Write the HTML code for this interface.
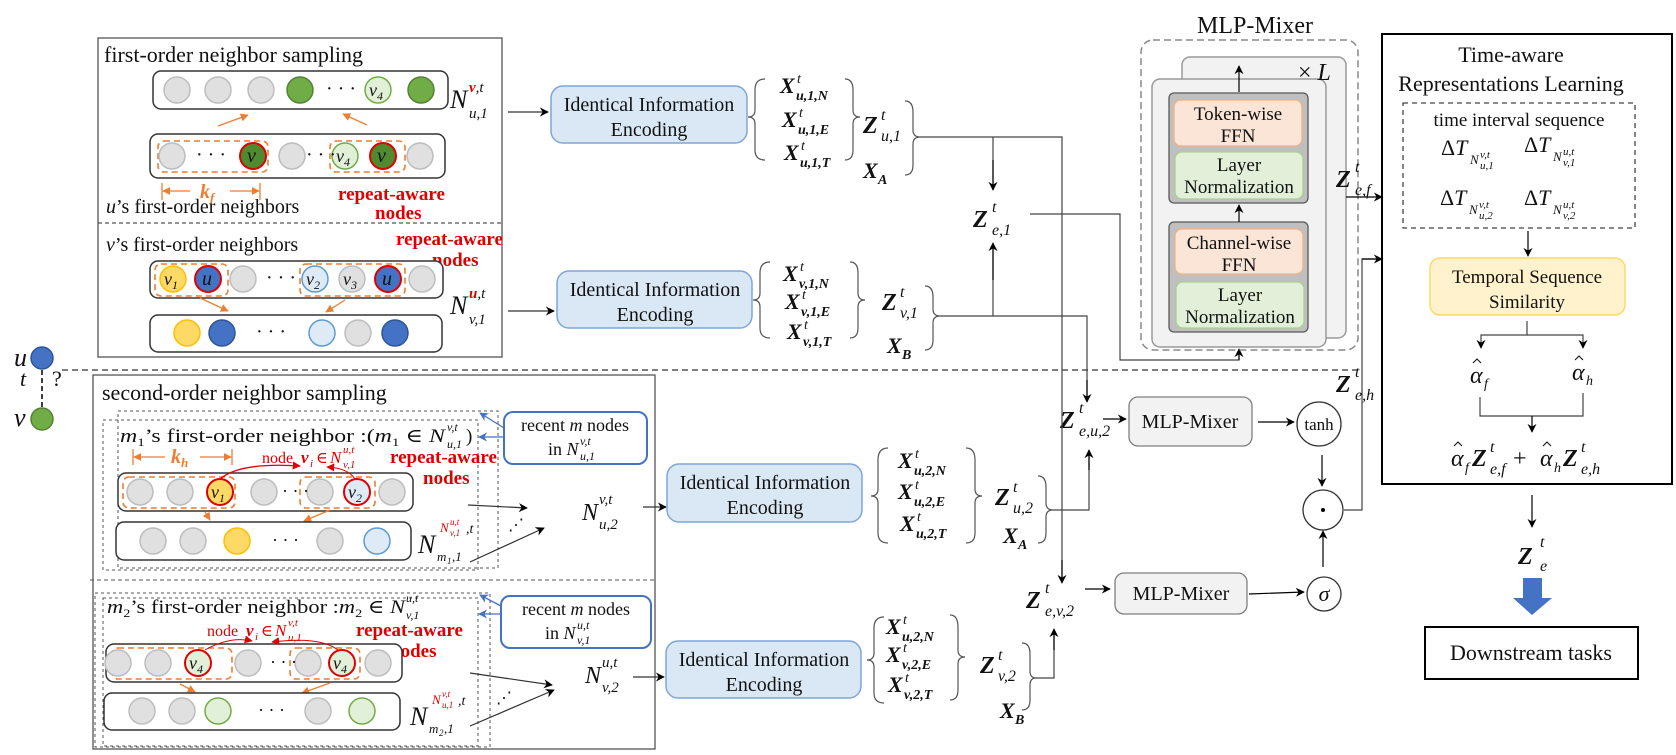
<!DOCTYPE html>
<html><head><meta charset="utf-8">
<style>
html,body{margin:0;padding:0;background:#fff;}
svg{display:block;}
text{font-family:"Liberation Serif","DejaVu Serif",serif;fill:#111;}
.t{font-size:22px;}
.m{font-style:italic;}
.b{font-weight:bold;}
.r{fill:#e00000;}
.o{fill:#ed7d31;}
.X{font-size:22px;font-style:italic;font-weight:bold;}
.Z{font-size:24px;font-style:italic;font-weight:bold;}
.s{font-size:14px;font-style:italic;}
.sb{font-size:14px;font-style:italic;font-weight:bold;}
.z{font-size:16px;font-style:italic;}
</style></head>
<body>
<svg width="1676" height="755" viewBox="0 0 1676 755" xmlns="http://www.w3.org/2000/svg">
<defs>
<marker id="a" viewBox="0 0 10 10" refX="9" refY="5" markerWidth="9" markerHeight="9" orient="auto-start-reverse" markerUnits="userSpaceOnUse"><path d="M0,0 L10,5 L0,10 L3,5 z" fill="#000"/></marker>
<marker id="ao" viewBox="0 0 10 10" refX="9" refY="5" markerWidth="8" markerHeight="8" orient="auto" markerUnits="userSpaceOnUse"><path d="M0,0 L10,5 L0,10 z" fill="#ed7d31"/></marker>
<marker id="ab" viewBox="0 0 10 10" refX="9" refY="5" markerWidth="9" markerHeight="9" orient="auto" markerUnits="userSpaceOnUse"><path d="M0,0 L10,5 L0,10 L3,5 z" fill="#4472c4"/></marker>
<marker id="ar" viewBox="0 0 10 10" refX="9" refY="5" markerWidth="8" markerHeight="8" orient="auto" markerUnits="userSpaceOnUse"><path d="M0,0 L10,5 L0,10 z" fill="#e00000"/></marker>
</defs>

<text x="14" y="366" class="m" font-size="26">u</text>
<circle cx="42" cy="358" r="11" fill="#4472c4" stroke="#2f5597" stroke-width="1.5"/>
<line x1="42" y1="370" x2="42" y2="407" stroke="#000" stroke-width="1.5" stroke-dasharray="5,3"/>
<text x="20" y="386" class="m" font-size="22">t</text>
<text x="52" y="386" font-size="22">?</text>
<text x="14" y="426" class="m" font-size="26">v</text>
<circle cx="42" cy="419" r="11" fill="#70ad47" stroke="#548235" stroke-width="1.5"/>

<line x1="62" y1="370" x2="1362" y2="370" stroke="#333" stroke-width="1.3" stroke-dasharray="6,4"/>

<!-- first-order box -->
<rect x="98" y="38" width="404" height="319" fill="none" stroke="#555" stroke-width="1.3"/>
<text x="104" y="62" class="t">first-order neighbor sampling</text>
<rect x="153" y="71" width="295" height="38" rx="8" fill="#fff" stroke="#333" stroke-width="1.5"/>
<g stroke-width="1.5">
<circle cx="177" cy="90" r="13" fill="#e0e0e0" stroke="#bdbdbd"/>
<circle cx="218" cy="90" r="13" fill="#e0e0e0" stroke="#bdbdbd"/>
<circle cx="261" cy="90" r="13" fill="#e0e0e0" stroke="#bdbdbd"/>
<circle cx="300" cy="90" r="13" fill="#70ad47" stroke="#548235"/>
<circle cx="378" cy="90" r="13" fill="#e2f0d9" stroke="#70ad47"/>
<circle cx="421" cy="90" r="13" fill="#70ad47" stroke="#548235"/>
</g>
<text x="326" y="95" font-size="20">· · ·</text>
<text x="369" y="96" class="m" font-size="18">v<tspan font-size="12" dy="4">4</tspan></text>

<line x1="218" y1="126" x2="248" y2="115" stroke="#ed7d31" stroke-width="1.3" marker-end="url(#ao)"/>
<line x1="367" y1="125" x2="343" y2="114" stroke="#ed7d31" stroke-width="1.3" marker-end="url(#ao)"/>

<rect x="150" y="134" width="295" height="44" rx="8" fill="#fff" stroke="#333" stroke-width="1.5"/>
<rect x="158" y="141" width="110" height="31" rx="6" fill="none" stroke="#ed7d31" stroke-width="1.6" stroke-dasharray="6,4"/>
<rect x="330" y="141" width="75" height="31" rx="6" fill="none" stroke="#ed7d31" stroke-width="1.6" stroke-dasharray="6,4"/>
<g stroke-width="1.5">
<circle cx="172" cy="156" r="13" fill="#e0e0e0" stroke="#bdbdbd"/>
<circle cx="253" cy="156" r="13" fill="#4f8a2e" stroke="#e00000" stroke-width="2"/>
<circle cx="292" cy="156" r="13" fill="#e0e0e0" stroke="#bdbdbd"/>
<circle cx="345" cy="156" r="13" fill="#e2f0d9" stroke="#70ad47"/>
<circle cx="383" cy="156" r="13" fill="#4f8a2e" stroke="#e00000" stroke-width="2"/>
<circle cx="420" cy="156" r="13" fill="#e0e0e0" stroke="#bdbdbd"/>
</g>
<text x="196" y="161" font-size="20">· · ·</text>
<text x="306" y="161" font-size="20">· · ·</text>
<text x="247" y="162" class="m" font-size="20">v</text>
<text x="377" y="162" class="m" font-size="20">v</text>
<text x="336" y="162" class="m" font-size="18">v<tspan font-size="12" dy="4">4</tspan></text>

<line x1="162" y1="183" x2="162" y2="200" stroke="#ed7d31" stroke-width="1.3"/>
<line x1="260" y1="183" x2="260" y2="200" stroke="#ed7d31" stroke-width="1.3"/>
<line x1="190" y1="191" x2="163" y2="191" stroke="#ed7d31" stroke-width="1.3" marker-end="url(#ao)"/>
<line x1="230" y1="191" x2="259" y2="191" stroke="#ed7d31" stroke-width="1.3" marker-end="url(#ao)"/>
<text x="200" y="198" class="m b o" font-size="20">k<tspan font-size="13" dy="4">f</tspan></text>
<text x="106" y="213" font-size="20"><tspan class="m">u</tspan>’s first-order neighbors</text>
<text x="338" y="200" class="b r" font-size="19">repeat-aware</text>
<text x="375" y="219" class="b r" font-size="19">nodes</text>

<line x1="98" y1="223" x2="502" y2="223" stroke="#555" stroke-width="1.2" stroke-dasharray="4,3"/>
<text x="106" y="251" font-size="20"><tspan class="m">v</tspan>’s first-order neighbors</text>
<text x="396" y="245" class="b r" font-size="19">repeat-aware</text>
<text x="432" y="266" class="b r" font-size="19">nodes</text>

<rect x="150" y="261" width="293" height="37" rx="8" fill="#fff" stroke="#333" stroke-width="1.5"/>
<rect x="155" y="264" width="73" height="32" rx="6" fill="none" stroke="#ed7d31" stroke-width="1.6" stroke-dasharray="6,4"/>
<rect x="300" y="264" width="105" height="32" rx="6" fill="none" stroke="#ed7d31" stroke-width="1.6" stroke-dasharray="6,4"/>
<g stroke-width="1.5">
<circle cx="173" cy="279" r="13" fill="#ffd966" stroke="#ffc000"/>
<circle cx="208" cy="279" r="13" fill="#4472c4" stroke="#e00000" stroke-width="2"/>
<circle cx="243" cy="279" r="13" fill="#e0e0e0" stroke="#bdbdbd"/>
<circle cx="315" cy="279" r="13" fill="#deebf7" stroke="#5b9bd5"/>
<circle cx="352" cy="279" r="13" fill="#e0e0e0" stroke="#bdbdbd"/>
<circle cx="388" cy="279" r="13" fill="#4472c4" stroke="#e00000" stroke-width="2"/>
<circle cx="422" cy="279" r="13" fill="#e0e0e0" stroke="#bdbdbd"/>
</g>
<text x="266" y="284" font-size="20">· · ·</text>
<text x="164" y="285" class="m" font-size="18">v<tspan font-size="12" dy="4">1</tspan></text>
<text x="202" y="285" class="m" font-size="20">u</text>
<text x="306" y="285" class="m" font-size="18">v<tspan font-size="12" dy="4">2</tspan></text>
<text x="343" y="285" class="m" font-size="18">v<tspan font-size="12" dy="4">3</tspan></text>
<text x="382" y="285" class="m" font-size="20">u</text>

<line x1="200" y1="298" x2="228" y2="311" stroke="#ed7d31" stroke-width="1.3" marker-end="url(#ao)"/>
<line x1="345" y1="300" x2="326" y2="312" stroke="#ed7d31" stroke-width="1.3" marker-end="url(#ao)"/>

<rect x="150" y="315" width="292" height="37" rx="8" fill="#fff" stroke="#333" stroke-width="1.5"/>
<g stroke-width="1.5">
<circle cx="187" cy="333" r="13" fill="#ffd966" stroke="#ffc000"/>
<circle cx="222" cy="333" r="13" fill="#4472c4" stroke="#2f5597"/>
<circle cx="322" cy="333" r="13" fill="#deebf7" stroke="#5b9bd5"/>
<circle cx="358" cy="333" r="13" fill="#e0e0e0" stroke="#bdbdbd"/>
<circle cx="395" cy="333" r="13" fill="#4472c4" stroke="#2f5597"/>
</g>
<text x="256" y="338" font-size="20">· · ·</text>

<text x="450" y="108" class="m" font-size="26">N</text>
<text x="469" y="118" class="m" font-size="15">u,1</text>
<text x="469" y="92" class="m b r" font-size="15">v<tspan fill="#111" font-weight="normal">,t</tspan></text>
<text x="450" y="314" class="m" font-size="26">N</text>
<text x="469" y="324" class="m" font-size="15">v,1</text>
<text x="469" y="298" class="m b r" font-size="15">u<tspan fill="#111" font-weight="normal">,t</tspan></text>

<!-- second-order box -->
<rect x="93" y="375" width="562" height="374" fill="none" stroke="#555" stroke-width="1.3"/>
<text x="102" y="400" class="t">second-order neighbor sampling</text>
<rect x="118" y="411" width="380" height="157" fill="none" stroke="#555" stroke-width="1" stroke-dasharray="3,3"/>
<rect x="103" y="420" width="375" height="150" fill="none" stroke="#555" stroke-width="1" stroke-dasharray="3,3"/>
<text x="120" y="442" font-size="19" textLength="325" lengthAdjust="spacingAndGlyphs"><tspan class="m">m</tspan><tspan font-size="12" dy="4">1</tspan><tspan dy="-4">’s first-order neighbor :(</tspan><tspan class="m">m</tspan><tspan font-size="12" dy="4">1</tspan><tspan dy="-4"> ∈ </tspan><tspan class="m">N</tspan></text>
<text x="447" y="431" class="m" font-size="12">v,t</text>
<text x="447" y="448" class="m" font-size="12">u,1</text>
<text x="466" y="442" font-size="19">)</text>

<line x1="133" y1="449" x2="133" y2="465" stroke="#ed7d31" stroke-width="1.3"/>
<line x1="232" y1="449" x2="232" y2="465" stroke="#ed7d31" stroke-width="1.3"/>
<line x1="165" y1="457" x2="134" y2="457" stroke="#ed7d31" stroke-width="1.3" marker-end="url(#ao)"/>
<line x1="200" y1="457" x2="231" y2="457" stroke="#ed7d31" stroke-width="1.3" marker-end="url(#ao)"/>
<text x="171" y="463" class="m b o" font-size="20">k<tspan font-size="13" dy="4">h</tspan></text>

<text x="262" y="463" class="r" font-size="16">node</text>
<text x="301" y="463" class="r m b" font-size="17">v</text>
<text x="310" y="467" class="r m" font-size="11">i</text>
<text x="316" y="463" class="r" font-size="16">∈</text>
<text x="330" y="463" class="r m" font-size="17">N</text>
<text x="343" y="453" class="r m" font-size="11">u,t</text>
<text x="343" y="468" class="r m" font-size="11">v,1</text>
<text x="390" y="463" class="b r" font-size="19">repeat-aware</text>
<text x="423" y="484" class="b r" font-size="19">nodes</text>

<rect x="118" y="473" width="295" height="38" rx="8" fill="#fff" stroke="#333" stroke-width="1.5"/>
<rect x="123" y="477" width="112" height="31" rx="6" fill="none" stroke="#ed7d31" stroke-width="1.6" stroke-dasharray="6,4"/>
<rect x="300" y="477" width="75" height="31" rx="6" fill="none" stroke="#ed7d31" stroke-width="1.6" stroke-dasharray="6,4"/>
<g stroke-width="1.5">
<circle cx="140" cy="492" r="13" fill="#e0e0e0" stroke="#bdbdbd"/>
<circle cx="180" cy="492" r="13" fill="#e0e0e0" stroke="#bdbdbd"/>
<circle cx="220" cy="492" r="13" fill="#ffd966" stroke="#e00000" stroke-width="2"/>
<circle cx="264" cy="492" r="13" fill="#e0e0e0" stroke="#bdbdbd"/>
<circle cx="320" cy="492" r="13" fill="#e0e0e0" stroke="#bdbdbd"/>
<circle cx="357" cy="492" r="13" fill="#deebf7" stroke="#e00000" stroke-width="2"/>
<circle cx="392" cy="492" r="13" fill="#e0e0e0" stroke="#bdbdbd"/>
</g>
<text x="282" y="497" font-size="18">· · ·</text>
<text x="211" y="498" class="m" font-size="18">v<tspan font-size="12" dy="4">1</tspan></text>
<text x="348" y="498" class="m" font-size="18">v<tspan font-size="12" dy="4">2</tspan></text>
<path d="M220,479 Q240,462 300,466" fill="none" stroke="#e00000" stroke-width="1.3" marker-end="url(#ar)"/>
<path d="M355,479 Q348,468 327,467" fill="none" stroke="#e00000" stroke-width="1" marker-end="url(#ar)"/>
<line x1="205" y1="512" x2="210" y2="520" stroke="#ed7d31" stroke-width="1.3" marker-end="url(#ao)"/>
<line x1="330" y1="510" x2="304" y2="521" stroke="#ed7d31" stroke-width="1.3" marker-end="url(#ao)"/>

<rect x="116" y="522" width="295" height="38" rx="8" fill="#fff" stroke="#333" stroke-width="1.5"/>
<g stroke-width="1.5">
<circle cx="153" cy="541" r="13" fill="#e0e0e0" stroke="#bdbdbd"/>
<circle cx="193" cy="541" r="13" fill="#e0e0e0" stroke="#bdbdbd"/>
<circle cx="237" cy="541" r="13" fill="#ffd966" stroke="#ffc000"/>
<circle cx="330" cy="541" r="13" fill="#e0e0e0" stroke="#bdbdbd"/>
<circle cx="377" cy="541" r="13" fill="#deebf7" stroke="#5b9bd5"/>
</g>
<text x="272" y="546" font-size="18">· · ·</text>
<text x="418" y="553" class="m" font-size="26">N</text>
<text x="437" y="561" class="m" font-size="13">m</text><text x="447" y="564" class="m" font-size="9">1</text><text x="452" y="561" class="m" font-size="13">,1</text>
<text x="440" y="532" class="m r" font-size="13">N</text>
<text x="450" y="525" class="m r" font-size="9">u,t</text>
<text x="450" y="536" class="m r" font-size="9">v,1</text>
<text x="466" y="533" class="m" font-size="14">,t</text>

<line x1="90" y1="580" x2="655" y2="580" stroke="#555" stroke-width="1" stroke-dasharray="4,3"/>

<rect x="95" y="593" width="395" height="154" fill="none" stroke="#555" stroke-width="1" stroke-dasharray="3,3"/>
<rect x="103" y="598" width="375" height="148" fill="none" stroke="#555" stroke-width="1" stroke-dasharray="3,3"/>
<text x="107" y="613" font-size="19" textLength="298" lengthAdjust="spacingAndGlyphs"><tspan class="m">m</tspan><tspan font-size="12" dy="4">2</tspan><tspan dy="-4">’s first-order neighbor :</tspan><tspan class="m">m</tspan><tspan font-size="12" dy="4">2</tspan><tspan dy="-4"> ∈ </tspan><tspan class="m">N</tspan></text>
<text x="406" y="602" class="m" font-size="12">u,t</text>
<text x="406" y="619" class="m" font-size="12">v,1</text>

<text x="207" y="636" class="r" font-size="16">node</text>
<text x="246" y="636" class="r m b" font-size="17">v</text>
<text x="255" y="640" class="r m" font-size="11">i</text>
<text x="261" y="636" class="r" font-size="16">∈</text>
<text x="275" y="636" class="r m" font-size="17">N</text>
<text x="288" y="626" class="r m" font-size="11">v,t</text>
<text x="288" y="641" class="r m" font-size="11">u,1</text>
<text x="356" y="636" class="b r" font-size="19">repeat-aware</text>
<text x="390" y="657" class="b r" font-size="19">nodes</text>

<rect x="106" y="644" width="296" height="38" rx="8" fill="#fff" stroke="#333" stroke-width="1.5"/>
<rect x="112" y="648" width="120" height="31" rx="6" fill="none" stroke="#ed7d31" stroke-width="1.6" stroke-dasharray="6,4"/>
<rect x="290" y="648" width="70" height="31" rx="6" fill="none" stroke="#ed7d31" stroke-width="1.6" stroke-dasharray="6,4"/>
<g stroke-width="1.5">
<circle cx="118" cy="663" r="13" fill="#e0e0e0" stroke="#bdbdbd"/>
<circle cx="158" cy="663" r="13" fill="#e0e0e0" stroke="#bdbdbd"/>
<circle cx="198" cy="663" r="13" fill="#e2f0d9" stroke="#e00000" stroke-width="2"/>
<circle cx="248" cy="663" r="13" fill="#e0e0e0" stroke="#bdbdbd"/>
<circle cx="308" cy="663" r="13" fill="#e0e0e0" stroke="#bdbdbd"/>
<circle cx="342" cy="663" r="13" fill="#e2f0d9" stroke="#e00000" stroke-width="2"/>
<circle cx="378" cy="663" r="13" fill="#e0e0e0" stroke="#bdbdbd"/>
</g>
<text x="270" y="668" font-size="18">· · ·</text>
<text x="189" y="669" class="m" font-size="18">v<tspan font-size="12" dy="4">4</tspan></text>
<text x="333" y="669" class="m" font-size="18">v<tspan font-size="12" dy="4">4</tspan></text>
<path d="M205,650 Q230,636 252,641" fill="none" stroke="#e00000" stroke-width="1" marker-end="url(#ar)"/>
<path d="M338,650 Q320,636 272,642" fill="none" stroke="#e00000" stroke-width="1" marker-end="url(#ar)"/>
<line x1="180" y1="684" x2="195" y2="692" stroke="#ed7d31" stroke-width="1.3" marker-end="url(#ao)"/>
<line x1="330" y1="683" x2="302" y2="693" stroke="#ed7d31" stroke-width="1.3" marker-end="url(#ao)"/>

<rect x="104" y="693" width="296" height="37" rx="8" fill="#fff" stroke="#333" stroke-width="1.5"/>
<g stroke-width="1.5">
<circle cx="142" cy="711" r="13" fill="#e0e0e0" stroke="#bdbdbd"/>
<circle cx="182" cy="711" r="13" fill="#e0e0e0" stroke="#bdbdbd"/>
<circle cx="218" cy="711" r="13" fill="#e2f0d9" stroke="#70ad47"/>
<circle cx="318" cy="711" r="13" fill="#e0e0e0" stroke="#bdbdbd"/>
<circle cx="362" cy="711" r="13" fill="#e2f0d9" stroke="#70ad47"/>
</g>
<text x="258" y="716" font-size="18">· · ·</text>
<text x="410" y="725" class="m" font-size="26">N</text>
<text x="429" y="733" class="m" font-size="13">m</text><text x="439" y="736" class="m" font-size="9">2</text><text x="444" y="733" class="m" font-size="13">,1</text>
<text x="432" y="704" class="m r" font-size="13">N</text>
<text x="442" y="697" class="m r" font-size="9">v,t</text>
<text x="442" y="708" class="m r" font-size="9">u,1</text>
<text x="458" y="705" class="m" font-size="14">,t</text>

<!-- recent m nodes -->
<rect x="504" y="412" width="143" height="52" rx="9" fill="#fff" stroke="#4472c4" stroke-width="2"/>
<text x="575" y="431" text-anchor="middle" font-size="18">recent <tspan class="m">m</tspan> nodes</text>
<text x="548" y="455" font-size="18">in <tspan class="m">N</tspan></text>
<text x="580" y="445" class="m" font-size="12">v,t</text>
<text x="580" y="460" class="m" font-size="12">u,1</text>
<line x1="504" y1="437" x2="479" y2="437" stroke="#4472c4" stroke-width="1.3" marker-end="url(#ab)"/>
<line x1="504" y1="428" x2="480" y2="413" stroke="#4472c4" stroke-width="1.3" marker-end="url(#ab)"/>
<rect x="501" y="596" width="150" height="52" rx="9" fill="#fff" stroke="#4472c4" stroke-width="2"/>
<text x="576" y="615" text-anchor="middle" font-size="18">recent <tspan class="m">m</tspan> nodes</text>
<text x="545" y="639" font-size="18">in <tspan class="m">N</tspan></text>
<text x="577" y="629" class="m" font-size="12">u,t</text>
<text x="577" y="644" class="m" font-size="12">v,1</text>
<line x1="501" y1="614" x2="479" y2="614" stroke="#4472c4" stroke-width="1.3" marker-end="url(#ab)"/>
<line x1="501" y1="606" x2="480" y2="595" stroke="#4472c4" stroke-width="1.3" marker-end="url(#ab)"/>

<line x1="468" y1="505" x2="527" y2="508" stroke="#333" stroke-width="1.2" marker-end="url(#a)"/>
<text x="508" y="530" font-size="16">⋰</text>
<line x1="470" y1="562" x2="544" y2="528" stroke="#333" stroke-width="1.2" marker-end="url(#a)"/>
<line x1="470" y1="673" x2="552" y2="685" stroke="#333" stroke-width="1.2" marker-end="url(#a)"/>
<text x="496" y="703" font-size="16">⋰</text>
<line x1="470" y1="726" x2="554" y2="690" stroke="#333" stroke-width="1.2" marker-end="url(#a)"/>
<text x="582" y="520" class="m" font-size="24">N</text>
<text x="599" y="504" class="m" font-size="15">v,t</text>
<text x="599" y="529" class="m" font-size="15">u,2</text>
<text x="585" y="683" class="m" font-size="24">N</text>
<text x="602" y="667" class="m" font-size="15">u,t</text>
<text x="602" y="692" class="m" font-size="15">v,2</text>

<line x1="508" y1="112" x2="548" y2="112" stroke="#333" stroke-width="1.3" marker-end="url(#a)"/>
<line x1="508" y1="311" x2="554" y2="311" stroke="#333" stroke-width="1.3" marker-end="url(#a)"/>
<line x1="643" y1="507" x2="666" y2="507" stroke="#333" stroke-width="1.3" marker-end="url(#a)"/>
<line x1="633" y1="677" x2="664" y2="677" stroke="#333" stroke-width="1.3" marker-end="url(#a)"/>

<g fill="#dae8f6" stroke="#7ea6d8" stroke-width="1.5">
<rect x="551" y="86" width="196" height="57" rx="12"/>
<rect x="557" y="271" width="195" height="57" rx="12"/>
<rect x="667" y="464" width="195" height="58" rx="12"/>
<rect x="666" y="641" width="195" height="57" rx="12"/>
</g>
<g font-size="20" text-anchor="middle">
<text x="649" y="111">Identical Information</text><text x="649" y="136">Encoding</text>
<text x="655" y="296">Identical Information</text><text x="655" y="321">Encoding</text>
<text x="765" y="489">Identical Information</text><text x="765" y="514">Encoding</text>
<text x="764" y="666">Identical Information</text><text x="764" y="691">Encoding</text>
</g>

<g fill="none" stroke="#555" stroke-width="1.2">
<path d="M765,79 Q755,79 755,90 L755,110 Q755,117 748,117 Q755,117 755,124 L755,150 Q755,160 765,160"/>
<path d="M845,79 Q853,79 853,90 L853,110 Q853,117 860,117 Q853,117 853,124 L853,150 Q853,160 845,160"/>
<path d="M905,101 Q913,101 913,112 L913,130 Q913,137 920,137 Q913,137 913,144 L913,165 Q913,175 905,175"/>
<path d="M770,262 Q760,262 760,273 L760,293 Q760,300 753,300 Q760,300 760,307 L760,328 Q760,338 770,338"/>
<path d="M850,262 Q858,262 858,273 L858,293 Q858,300 865,300 Q858,300 858,307 L858,328 Q858,338 850,338"/>
<path d="M925,286 Q933,286 933,297 L933,309 Q933,316 940,316 Q933,316 933,323 L933,340 Q933,350 925,350"/>
<path d="M888,448 Q878,448 878,460 L878,489 Q878,496 871,496 Q878,496 878,503 L878,533 Q878,543 888,543"/>
<path d="M966,448 Q975,448 975,460 L975,489 Q975,496 982,496 Q975,496 975,503 L975,533 Q975,543 966,543"/>
<path d="M1038,476 Q1046,476 1046,487 L1046,503 Q1046,510 1053,510 Q1046,510 1046,517 L1046,533 Q1046,543 1038,543"/>
<path d="M884,617 Q874,617 874,628 L874,653 Q874,660 867,660 Q874,660 874,667 L874,693 Q874,703 884,703"/>
<path d="M950,615 Q958,615 958,627 L958,650 Q958,657 965,657 Q958,657 958,664 L958,690 Q958,700 950,700"/>
<path d="M1022,643 Q1030,643 1030,654 L1030,671 Q1030,678 1036,678 Q1030,678 1030,685 L1030,700 Q1030,710 1022,710"/>
</g>

<g>
<text x="780" y="93" class="X">X</text><text x="797" y="83" class="s">t</text><text x="796" y="100" class="sb">u,1,N</text>
<text x="782" y="127" class="X">X</text><text x="799" y="117" class="s">t</text><text x="798" y="134" class="sb">u,1,E</text>
<text x="784" y="160" class="X">X</text><text x="801" y="150" class="s">t</text><text x="800" y="167" class="sb">u,1,T</text>
<text x="863" y="133" class="Z">Z</text><text x="881" y="120" class="z">t</text><text x="881" y="141" class="z">u,1</text>
<text x="863" y="178" class="X">X</text><text x="878" y="184" class="sb" font-size="12">A</text>

<text x="783" y="281" class="X">X</text><text x="800" y="271" class="s">t</text><text x="799" y="288" class="sb">v,1,N</text>
<text x="785" y="309" class="X">X</text><text x="802" y="299" class="s">t</text><text x="801" y="316" class="sb">v,1,E</text>
<text x="787" y="339" class="X">X</text><text x="804" y="329" class="s">t</text><text x="803" y="346" class="sb">v,1,T</text>
<text x="882" y="310" class="Z">Z</text><text x="900" y="297" class="z">t</text><text x="900" y="318" class="z">v,1</text>
<text x="887" y="353" class="X">X</text><text x="902" y="359" class="sb" font-size="12">B</text>

<text x="898" y="468" class="X">X</text><text x="915" y="458" class="s">t</text><text x="914" y="475" class="sb">u,2,N</text>
<text x="898" y="499" class="X">X</text><text x="915" y="489" class="s">t</text><text x="914" y="506" class="sb">u,2,E</text>
<text x="900" y="531" class="X">X</text><text x="917" y="521" class="s">t</text><text x="916" y="538" class="sb">u,2,T</text>
<text x="995" y="505" class="Z">Z</text><text x="1013" y="492" class="z">t</text><text x="1013" y="513" class="z">u,2</text>
<text x="1003" y="543" class="X">X</text><text x="1018" y="549" class="sb" font-size="12">A</text>

<text x="886" y="634" class="X">X</text><text x="903" y="624" class="s">t</text><text x="902" y="641" class="sb">u,2,N</text>
<text x="886" y="662" class="X">X</text><text x="903" y="652" class="s">t</text><text x="902" y="669" class="sb">v,2,E</text>
<text x="888" y="692" class="X">X</text><text x="905" y="682" class="s">t</text><text x="904" y="699" class="sb">v,2,T</text>
<text x="980" y="673" class="Z">Z</text><text x="998" y="660" class="z">t</text><text x="998" y="681" class="z">v,2</text>
<text x="1000" y="718" class="X">X</text><text x="1015" y="724" class="sb" font-size="12">B</text>

<text x="973" y="227" class="Z" font-size="26">Z</text><text x="992" y="212" class="z" font-size="17">t</text><text x="992" y="235" class="z" font-size="17">e,1</text>
<text x="1060" y="428" class="Z" font-size="26">Z</text><text x="1079" y="413" class="z" font-size="17">t</text><text x="1079" y="436" class="z" font-size="17">e,u,2</text>
<text x="1026" y="608" class="Z" font-size="26">Z</text><text x="1045" y="593" class="z" font-size="17">t</text><text x="1045" y="616" class="z" font-size="17">e,v,2</text>
</g>

<g fill="none" stroke="#444" stroke-width="1.2">
<polyline points="920,137 1062,137 1062,582"/>
<polyline points="993,137 993,190"/>
<polyline points="940,316 1087,316 1087,401"/>
<polyline points="993,316 993,244"/>
<polyline points="1030,214 1120,214 1120,360 1239,360 1239,351"/>
<polyline points="1053,510 1089,510 1089,452"/>
<polyline points="1036,678 1054,678 1054,630"/>
<polyline points="1344,510 1362,510 1362,259 1380,259"/>
</g>
<g stroke="#000" stroke-width="1.2">
<line x1="993" y1="160" x2="993" y2="190" marker-end="url(#a)"/>
<line x1="993" y1="280" x2="993" y2="243" marker-end="url(#a)"/>
<line x1="1062" y1="560" x2="1062" y2="583" marker-end="url(#a)"/>
<line x1="1087" y1="380" x2="1087" y2="402" marker-end="url(#a)"/>
<line x1="1089" y1="470" x2="1089" y2="450" marker-end="url(#a)"/>
<line x1="1054" y1="650" x2="1054" y2="629" marker-end="url(#a)"/>
<line x1="1239" y1="360" x2="1239" y2="349" marker-end="url(#a)"/>
<line x1="1362" y1="259" x2="1382" y2="259" marker-end="url(#a)"/>
<line x1="1103" y1="419" x2="1126" y2="419" marker-end="url(#a)"/>
<line x1="1258" y1="422" x2="1294" y2="422" marker-end="url(#a)"/>
<line x1="1085" y1="589" x2="1110" y2="589" marker-end="url(#a)"/>
<line x1="1249" y1="594" x2="1304" y2="592" marker-end="url(#a)"/>
<line x1="1322" y1="455" x2="1322" y2="486" marker-end="url(#a)"/>
<line x1="1323" y1="567" x2="1323" y2="531" marker-end="url(#a)"/>
</g>

<rect x="1129" y="397" width="123" height="49" rx="9" fill="#f2f2f2" stroke="#7f7f7f" stroke-width="1.3"/>
<text x="1190" y="428" text-anchor="middle" font-size="20">MLP-Mixer</text>
<rect x="1115" y="573" width="132" height="41" rx="9" fill="#f2f2f2" stroke="#7f7f7f" stroke-width="1.3"/>
<text x="1181" y="600" text-anchor="middle" font-size="20">MLP-Mixer</text>
<circle cx="1319" cy="424" r="22" fill="#fff" stroke="#333" stroke-width="1.3"/>
<text x="1319" y="430" text-anchor="middle" font-size="17">tanh</text>
<circle cx="1323" cy="510" r="20" fill="#fff" stroke="#333" stroke-width="1.3"/>
<circle cx="1323" cy="510" r="2" fill="#000"/>
<circle cx="1324" cy="594" r="17" fill="#fff" stroke="#333" stroke-width="1.3"/>
<text x="1324" y="601" text-anchor="middle" class="m" font-size="22">σ</text>

<!-- big MLP-Mixer -->
<text x="1255" y="33" text-anchor="middle" font-size="24">MLP-Mixer</text>
<rect x="1141" y="40" width="217" height="310" rx="12" fill="none" stroke="#888" stroke-width="1.5" stroke-dasharray="7,4"/>
<rect x="1182" y="57" width="164" height="281" rx="8" fill="#f2f2f2" stroke="#999" stroke-width="1.5"/>
<rect x="1152" y="79" width="174" height="268" rx="8" fill="#f2f2f2" stroke="#999" stroke-width="1.5"/>
<text x="1298" y="80" font-size="24">× <tspan class="m">L</tspan></text>
<rect x="1169" y="93" width="139" height="110" rx="5" fill="#bfbfbf" stroke="#595959" stroke-width="1.3"/>
<rect x="1174" y="100" width="128" height="46" rx="7" fill="#fbe5d6" stroke="#f4b183" stroke-width="1.3"/>
<rect x="1175" y="152" width="128" height="47" rx="7" fill="#e2f0d9" stroke="#a9d18e" stroke-width="1.3"/>
<rect x="1169" y="222" width="139" height="110" rx="5" fill="#bfbfbf" stroke="#595959" stroke-width="1.3"/>
<rect x="1175" y="229" width="128" height="45" rx="7" fill="#fbe5d6" stroke="#f4b183" stroke-width="1.3"/>
<rect x="1176" y="282" width="128" height="46" rx="7" fill="#e2f0d9" stroke="#a9d18e" stroke-width="1.3"/>
<g font-size="19" text-anchor="middle">
<text x="1238" y="120">Token-wise</text><text x="1238" y="142">FFN</text>
<text x="1239" y="171">Layer</text><text x="1239" y="193">Normalization</text>
<text x="1239" y="249">Channel-wise</text><text x="1239" y="271">FFN</text>
<text x="1240" y="301">Layer</text><text x="1240" y="323">Normalization</text>
</g>
<line x1="1239" y1="92" x2="1239" y2="66" stroke="#000" stroke-width="1.2" marker-end="url(#a)"/>
<line x1="1239" y1="222" x2="1239" y2="205" stroke="#000" stroke-width="1.2" marker-end="url(#a)"/>
<line x1="1346" y1="197" x2="1382" y2="197" stroke="#000" stroke-width="1.2" marker-end="url(#a)"/>

<!-- Time-aware box -->
<rect x="1382" y="34" width="290" height="450" fill="none" stroke="#000" stroke-width="2"/>
<text x="1511" y="62" text-anchor="middle" font-size="22">Time-aware</text>
<text x="1511" y="91" text-anchor="middle" font-size="22">Representations Learning</text>
<rect x="1403" y="103" width="232" height="125" fill="none" stroke="#444" stroke-width="1.3" stroke-dasharray="5,4"/>
<text x="1519" y="126" text-anchor="middle" font-size="19">time interval sequence</text>
<g>
<text x="1441" y="155" font-size="22">Δ<tspan class="m">T</tspan></text><text x="1470" y="164" class="m" font-size="13">N</text><text x="1480" y="158" class="m" font-size="11">v,t</text><text x="1480" y="169" class="m" font-size="11">u,1</text>
<text x="1524" y="152" font-size="22">Δ<tspan class="m">T</tspan></text><text x="1553" y="161" class="m" font-size="13">N</text><text x="1563" y="155" class="m" font-size="11">u,t</text><text x="1563" y="166" class="m" font-size="11">v,1</text>
<text x="1440" y="205" font-size="22">Δ<tspan class="m">T</tspan></text><text x="1469" y="214" class="m" font-size="13">N</text><text x="1479" y="208" class="m" font-size="11">v,t</text><text x="1479" y="219" class="m" font-size="11">u,2</text>
<text x="1524" y="205" font-size="22">Δ<tspan class="m">T</tspan></text><text x="1553" y="214" class="m" font-size="13">N</text><text x="1563" y="208" class="m" font-size="11">u,t</text><text x="1563" y="219" class="m" font-size="11">v,2</text>
</g>
<line x1="1528" y1="231" x2="1528" y2="256" stroke="#000" stroke-width="1.2" marker-end="url(#a)"/>
<rect x="1430" y="258" width="195" height="57" rx="10" fill="#fff2cc" stroke="#ffd966" stroke-width="1.5"/>
<text x="1527" y="283" text-anchor="middle" font-size="19">Temporal Sequence</text>
<text x="1527" y="308" text-anchor="middle" font-size="19">Similarity</text>
<polyline points="1527,321 1527,335 1481,335 1481,348" fill="none" stroke="#444" stroke-width="1.2" marker-end="url(#a)"/>
<polyline points="1527,335 1583,335 1583,348" fill="none" stroke="#444" stroke-width="1.2" marker-end="url(#a)"/>
<g fill="none" stroke="#111" stroke-width="1.1">
<polyline points="1473,363 1477,359 1481,363"/>
<polyline points="1575,360 1579,356 1583,360"/>
<polyline points="1454,446 1458,442 1462,446"/>
<polyline points="1543,446 1547,442 1551,446"/>
</g>
<text x="1470" y="383" class="m" font-size="24">α</text><text x="1484" y="388" class="m" font-size="14">f</text>
<text x="1572" y="380" class="m" font-size="24">α</text><text x="1586" y="385" class="m" font-size="14">h</text>
<polyline points="1480,397 1480,416 1583,416 1583,393" fill="none" stroke="#444" stroke-width="1.2"/>
<line x1="1532" y1="416" x2="1532" y2="432" stroke="#000" stroke-width="1.2" marker-end="url(#a)"/>
<text x="1451" y="466" class="m" font-size="24">α</text><text x="1465" y="472" class="m" font-size="14">f</text>
<text x="1472" y="466" class="Z">Z</text><text x="1490" y="452" class="z" font-size="15">t</text><text x="1490" y="474" class="z" font-size="15">e,f</text>
<text x="1513" y="466" font-size="24">+</text>
<text x="1540" y="466" class="m" font-size="24">α</text><text x="1554" y="472" class="m" font-size="14">h</text>
<text x="1563" y="466" class="Z">Z</text><text x="1581" y="452" class="z" font-size="15">t</text><text x="1581" y="474" class="z" font-size="15">e,h</text>

<line x1="1532" y1="495" x2="1532" y2="527" stroke="#000" stroke-width="1.2" marker-end="url(#a)"/>
<text x="1518" y="564" class="Z" font-size="30">Z</text><text x="1540" y="547" class="z" font-size="20">t</text><text x="1540" y="571" class="z" font-size="20">e</text>
<path d="M1523,578 L1542,578 L1542,598 L1552,598 L1532,615 L1513,598 L1523,598 Z" fill="#4472c4"/>
<rect x="1425" y="627" width="213" height="52" fill="#fff" stroke="#000" stroke-width="2"/>
<text x="1531" y="660" text-anchor="middle" font-size="22">Downstream tasks</text>

<!-- labels on top -->
<text x="1336" y="187" class="Z" font-size="26">Z</text><text x="1355" y="172" class="z" font-size="17">t</text><text x="1355" y="195" class="z" font-size="17">e,f</text>
<text x="1336" y="392" class="Z" font-size="26">Z</text><text x="1355" y="377" class="z" font-size="17">t</text><text x="1355" y="400" class="z" font-size="17">e,h</text>
</svg>
</body></html>
